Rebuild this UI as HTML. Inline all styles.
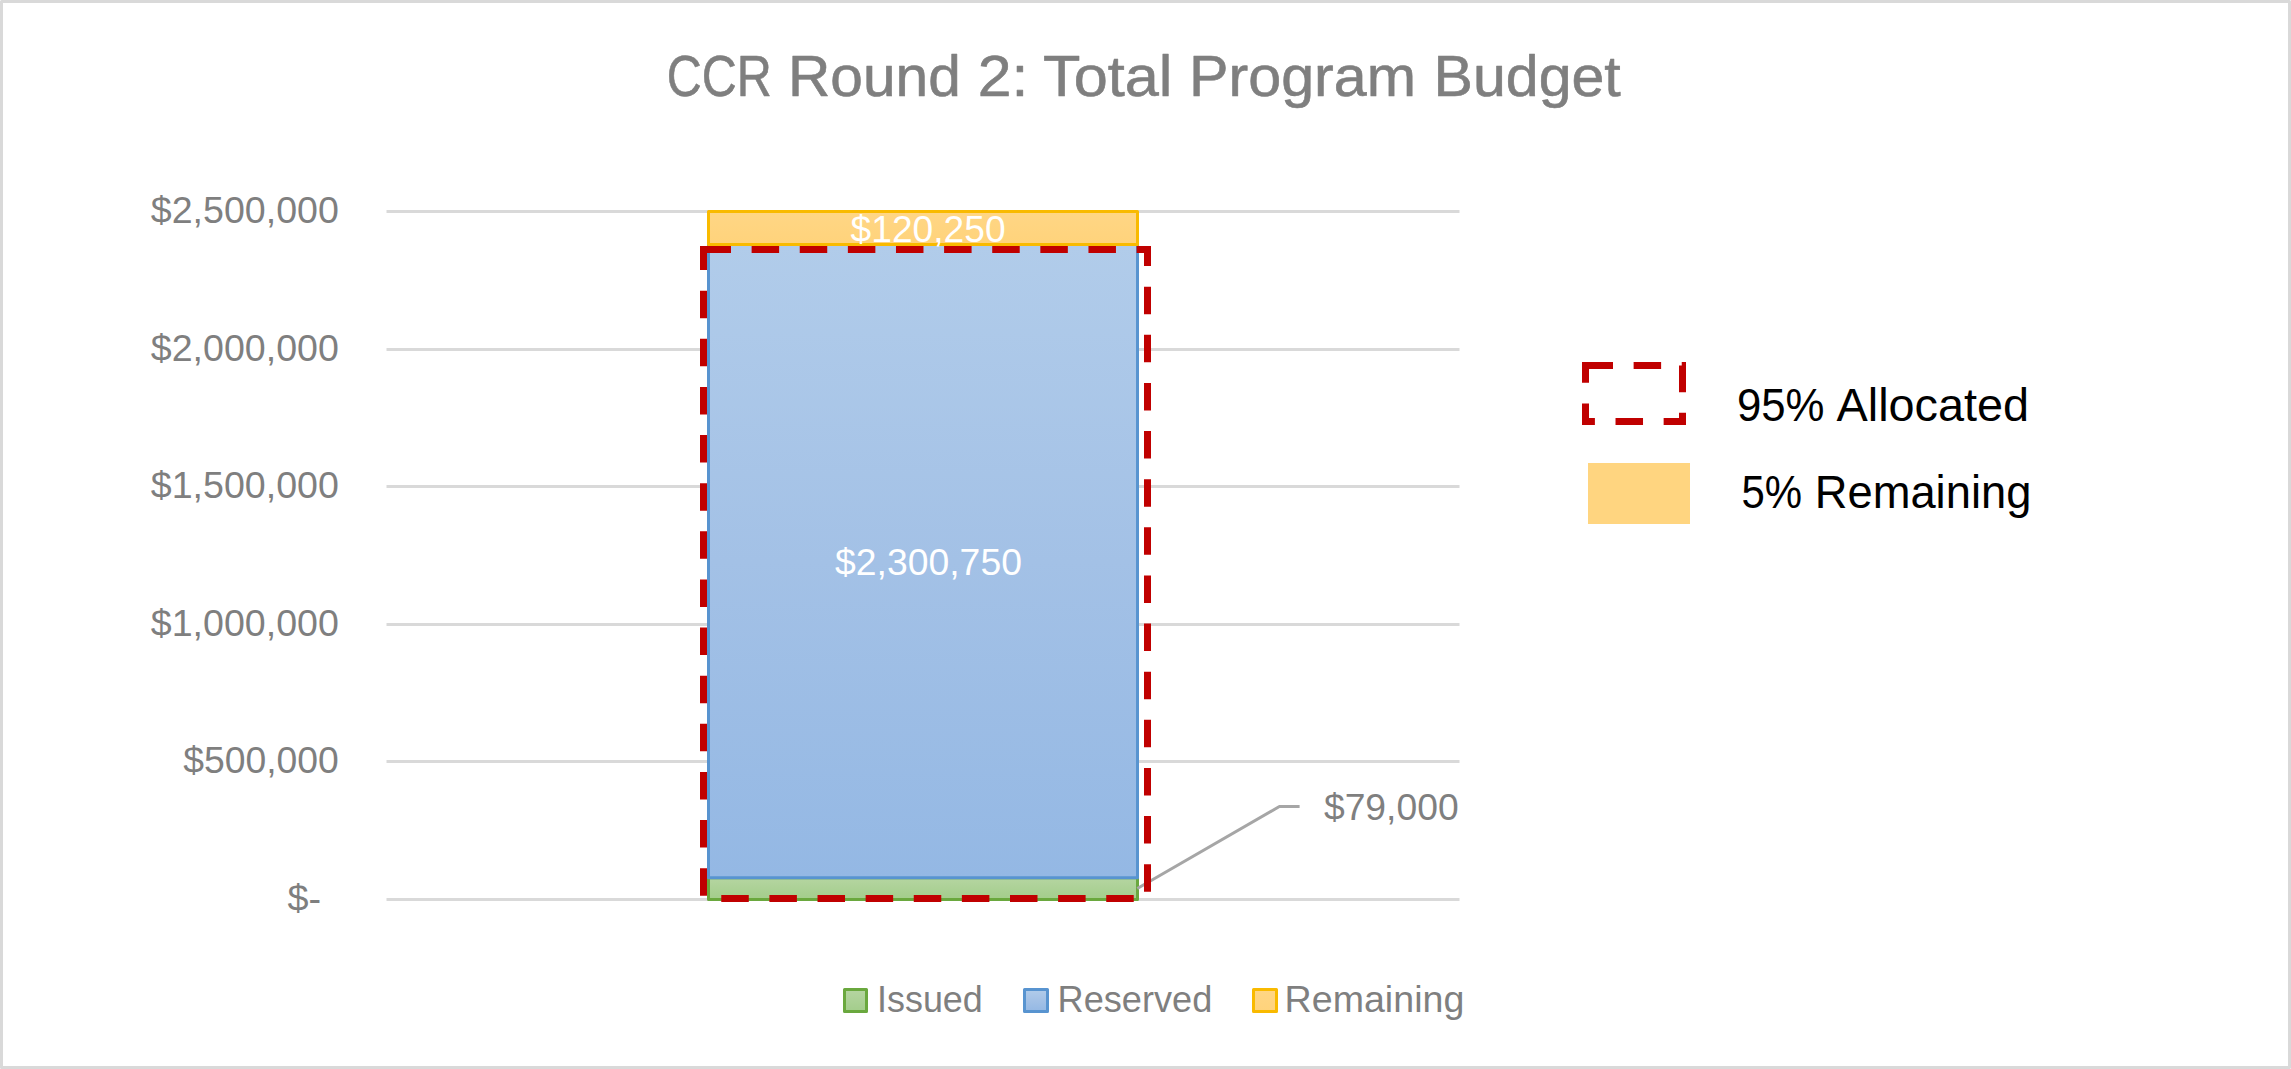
<!DOCTYPE html>
<html lang="en">
<head>
<meta charset="utf-8">
<title>CCR Round 2: Total Program Budget</title>
<style>
html,body{margin:0;padding:0;background:#fff;}
body{width:2291px;height:1069px;overflow:hidden;}
svg{display:block;}
svg text{font-family:"Liberation Sans", sans-serif;white-space:pre;}
</style>
</head>
<body>
<svg width="2291" height="1069" viewBox="0 0 2291 1069">
<defs>
<linearGradient id="gBlue" x1="0" y1="0" x2="0" y2="1">
<stop offset="0" stop-color="#B1CCEA"/><stop offset="0.5" stop-color="#A3C1E6"/><stop offset="1" stop-color="#94B8E4"/>
</linearGradient>
<linearGradient id="gGreen" x1="0" y1="0" x2="0" y2="1">
<stop offset="0" stop-color="#B5D5A1"/><stop offset="1" stop-color="#A3CD8B"/>
</linearGradient>
<linearGradient id="gYellow" x1="0" y1="0" x2="0" y2="1">
<stop offset="0" stop-color="#FFD685"/><stop offset="1" stop-color="#FFD37B"/>
</linearGradient>
</defs>
<!-- chart frame -->
<rect x="0" y="0" width="2291" height="1069" fill="#FFFFFF"/>
<rect x="1.5" y="1.5" width="2288" height="1066" fill="none" stroke="#D9D9D9" stroke-width="3" stroke-linejoin="round"/>
<!-- gridlines -->
<g stroke="#D9D9D9" stroke-width="3" fill="none">
<line x1="386.5" x2="1459.5" y1="211.50" y2="211.50"/>
<line x1="386.5" x2="1459.5" y1="349.50" y2="349.50"/>
<line x1="386.5" x2="1459.5" y1="486.50" y2="486.50"/>
<line x1="386.5" x2="1459.5" y1="624.50" y2="624.50"/>
<line x1="386.5" x2="1459.5" y1="761.50" y2="761.50"/>
<line x1="386.5" x2="1459.5" y1="899.50" y2="899.50"/>
</g>
<!-- stacked column -->
<g stroke-width="3" stroke-linejoin="round">
<rect x="708.5" y="877.8" width="429" height="21.7" fill="url(#gGreen)" stroke="#6AA83E"/>
<rect x="708.5" y="244.6" width="429" height="633.2" fill="url(#gBlue)" stroke="#5894D0"/>
<rect x="708.5" y="211.5" width="429" height="33.1" fill="url(#gYellow)" stroke="#F9BA00"/>
</g>
<!-- leader line -->
<polyline points="1137.3,888.5 1279.4,806.5 1299.6,806.5" fill="none" stroke="#A6A6A6" stroke-width="3" stroke-linejoin="round"/>
<!-- 95% allocated outline -->
<path d="M703.5,249.5 H1147.5 V898.5 H703.5 Z" fill="none" stroke="#C00000" stroke-width="7" stroke-dasharray="27.5 20.62"/>
<!-- text -->
<text id="title" y="95.50" font-size="57.0" fill="#7F7F7F" stroke="#7F7F7F" stroke-width="0.6" stroke-linejoin="round"><tspan id="title_0" x="666.80" textLength="105.00" lengthAdjust="spacingAndGlyphs">CCR</tspan> <tspan id="title_1" x="788.00" textLength="172.80" lengthAdjust="spacingAndGlyphs">Round</tspan> <tspan id="title_2" x="977.80" textLength="50.60" lengthAdjust="spacingAndGlyphs">2:</tspan> <tspan id="title_3" x="1043.00" textLength="129.40" lengthAdjust="spacingAndGlyphs">Total</tspan> <tspan id="title_4" x="1189.10" textLength="226.90" lengthAdjust="spacingAndGlyphs">Program</tspan> <tspan id="title_5" x="1433.60" textLength="187.20" lengthAdjust="spacingAndGlyphs">Budget</tspan></text>
<text id="ax5" y="222.70" font-size="37.5" fill="#7F7F7F"><tspan id="ax5_0" x="150.80" textLength="188.10" lengthAdjust="spacingAndGlyphs">$2,500,000</tspan></text>
<text id="ax4" y="360.70" font-size="37.5" fill="#7F7F7F"><tspan id="ax4_0" x="150.80" textLength="188.10" lengthAdjust="spacingAndGlyphs">$2,000,000</tspan></text>
<text id="ax3" y="497.70" font-size="37.5" fill="#7F7F7F"><tspan id="ax3_0" x="150.80" textLength="188.10" lengthAdjust="spacingAndGlyphs">$1,500,000</tspan></text>
<text id="ax2" y="635.70" font-size="37.5" fill="#7F7F7F"><tspan id="ax2_0" x="150.80" textLength="188.10" lengthAdjust="spacingAndGlyphs">$1,000,000</tspan></text>
<text id="ax1" y="772.70" font-size="37.5" fill="#7F7F7F"><tspan id="ax1_0" x="183.20" textLength="155.70" lengthAdjust="spacingAndGlyphs">$500,000</tspan></text>
<text id="ax0" y="910.70" font-size="37.5" fill="#7F7F7F"><tspan id="ax0_0" x="287.40" textLength="33.60" lengthAdjust="spacingAndGlyphs">$-</tspan></text>
<text id="dl3" y="241.60" font-size="37.5" fill="#FFFFFF"><tspan id="dl3_0" x="850.60" textLength="155.00" lengthAdjust="spacingAndGlyphs">$120,250</tspan></text>
<text id="dl2" y="574.80" font-size="37.5" fill="#FFFFFF"><tspan id="dl2_0" x="835.10" textLength="186.80" lengthAdjust="spacingAndGlyphs">$2,300,750</tspan></text>
<text id="dl1" y="820.10" font-size="37.5" fill="#7F7F7F"><tspan id="dl1_0" x="1323.90" textLength="134.80" lengthAdjust="spacingAndGlyphs">$79,000</tspan></text>
<text id="lg1" y="1011.90" font-size="36.0" fill="#7F7F7F"><tspan id="lg1_0" x="877.00" textLength="105.80" lengthAdjust="spacingAndGlyphs">Issued</tspan></text>
<text id="lg2" y="1011.90" font-size="36.0" fill="#7F7F7F"><tspan id="lg2_0" x="1057.60" textLength="154.70" lengthAdjust="spacingAndGlyphs">Reserved</tspan></text>
<text id="lg3" y="1011.90" font-size="36.0" fill="#7F7F7F"><tspan id="lg3_0" x="1284.60" textLength="179.70" lengthAdjust="spacingAndGlyphs">Remaining</tspan></text>
<text id="rl1" y="420.80" font-size="45.6" fill="#000000"><tspan id="rl1_0" x="1736.90" textLength="87.60" lengthAdjust="spacingAndGlyphs">95%</tspan> <tspan id="rl1_1" x="1836.50" textLength="192.60" lengthAdjust="spacingAndGlyphs">Allocated</tspan></text>
<text id="rl2" y="507.60" font-size="45.6" fill="#000000"><tspan id="rl2_0" x="1741.40" textLength="60.60" lengthAdjust="spacingAndGlyphs">5%</tspan> <tspan id="rl2_1" x="1814.70" textLength="216.70" lengthAdjust="spacingAndGlyphs">Remaining</tspan></text>
<!-- bottom legend keys -->
<g stroke-width="3" stroke-linejoin="round">
<rect x="844.5" y="989.5" width="22" height="22" fill="url(#gGreen)" stroke="#6AA83E"/>
<rect x="1024.5" y="989.5" width="23" height="22" fill="url(#gBlue)" stroke="#5894D0"/>
<rect x="1253.5" y="989.5" width="23" height="22" fill="url(#gYellow)" stroke="#F9BA00"/>
</g>
<!-- right legend -->
<path d="M1585.5,365.5 H1682.5 V421.5 H1585.5 Z" fill="none" stroke="#C00000" stroke-width="7" stroke-dasharray="27.5 20.62"/>
<rect x="1588" y="463" width="102" height="61" fill="#FFD580"/>
</svg>
</body>
</html>
